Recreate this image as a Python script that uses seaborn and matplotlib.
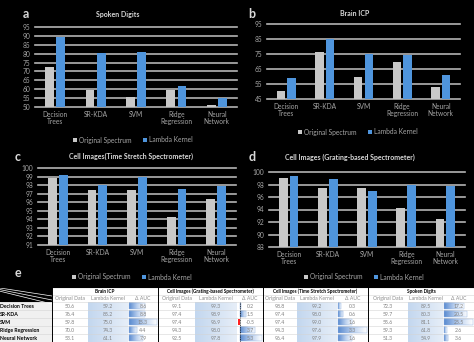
import numpy as np
import pandas as pd
import matplotlib
matplotlib.use("Agg")
import matplotlib.pyplot as plt
import seaborn as sns
from matplotlib.colors import LinearSegmentedColormap
from matplotlib.patches import Rectangle, Patch

plt.rcParams['font.family'] = ['Lato', 'DejaVu Sans']

# ---------------- data ----------------
methods = ["Decision\nTrees", "SR-KDA", "SVM", "Ridge\nRegression", "Neural\nNetwork"]
row_names = ["Decision Trees", "SR-KDA", "SVM", "Ridge Regression", "Neural Network"]
series = ["Original Spectrum", "Lambda Kernel"]
sub_headers = ["Original Data", "Lambda Kernel", "\u0394 AUC"]

spoken_orig = [72.3, 59.7, 55.6, 59.3, 51.3]
spoken_lambda = [89.5, 80.3, 81.1, 61.8, 54.9]
spoken_delta = [17.2, 20.5, 25.5, 2.6, 3.6]

brain_orig = [50.6, 76.4, 59.8, 70.0, 53.1]
brain_lambda = [59.2, 85.2, 75.0, 74.3, 61.1]
brain_delta = [8.6, 8.8, 15.3, 4.4, 7.9]

ts_orig = [98.8, 97.4, 97.4, 94.3, 96.4]
ts_lambda = [99.2, 98.0, 99.0, 97.6, 97.9]
ts_delta = [0.3, 0.6, 1.6, 3.3, 1.6]

gr_orig = [99.1, 97.4, 97.4, 94.3, 92.5]
gr_lambda = [99.3, 98.9, 96.9, 98.0, 97.8]
gr_delta = [0.2, 1.5, -0.5, 3.7, 5.3]

ticks_a = [50, 55, 60, 65, 70, 75, 80, 85, 90, 95]
ticks_b = [45, 55, 65, 75, 85, 95]
ticks_c = [91, 92, 93, 94, 95, 96, 97, 98, 99, 100]
ticks_d = [88, 90, 92, 94, 96, 98, 100]

title_a = "Spoken Digits"
title_b = "Brain ICP"
title_c = "Cell Images(Time Stretch Spectrometer)"
title_d = "Cell Images (Grating-based Spectrometer)"
title_gr_tab = "Cell Images (Grating-based Spectrometer)"
title_ts_tab = "Cell Images (Time Stretch Spectrometer)"

# ---------------- style ----------------
GRAY = "#c8c8c8"
BLUE = "#4f95dd"
GRID = "#b4b4b4"
TXT = "#a6a6a6"
TTL = "#d9d9d9"

W, H = 474, 342
fig = plt.figure(figsize=(W / 100, H / 100), dpi=100, facecolor="black")


def fx(x):
    return x / W


def fy(y):
    return 1 - y / H


def rect(x0, y0, x1, y1):
    return [fx(x0), fy(y1), (x1 - x0) / W, (y1 - y0) / H]


panels = [
    dict(box=(35, 27, 237, 107), orig=spoken_orig, lam=spoken_lambda, ticks=ticks_a,
         title=title_a, txy=(118, 14), letter="a", lxy=(26, 14), legxy=(133, 140)),
    dict(box=(267, 24, 460, 99), orig=brain_orig, lam=brain_lambda, ticks=ticks_b,
         title=title_b, txy=(355, 14), letter="b", lxy=(252, 14), legxy=(358, 132)),
    dict(box=(38, 168, 236, 245), orig=ts_orig, lam=ts_lambda, ticks=ticks_c,
         title=title_c, txy=(131, 156), letter="c", lxy=(18, 157), legxy=(132, 277)),
    dict(box=(269, 172, 465, 247), orig=gr_orig, lam=gr_lambda, ticks=ticks_d,
         title=title_d, txy=(350, 157), letter="d", lxy=(252, 157), legxy=(364, 277)),
]

for p in panels:
    ax = fig.add_axes(rect(*p["box"]))
    df = pd.DataFrame({
        "method": methods * 2,
        "series": [series[0]] * 5 + [series[1]] * 5,
        "value": p["orig"] + p["lam"],
    })
    sns.barplot(data=df, x="method", y="value", hue="series", palette=[GRAY, BLUE],
                width=0.55, gap=0.2, ax=ax, legend=False, saturation=1,
                errorbar=None, linewidth=0)
    ax.set_facecolor("black")
    ax.set_ylim(p["ticks"][0], p["ticks"][-1])
    ax.set_yticks(p["ticks"])
    ax.set_xlim(-0.5, 4.5)
    for s in ax.spines.values():
        s.set_visible(False)
    ax.grid(axis="y", color=GRID, lw=1.2)
    ax.grid(axis="x", visible=False)
    ax.set_axisbelow(True)
    for gl in ax.get_ygridlines():
        gl.set_clip_on(False)
    ax.tick_params(axis="both", length=0, colors=TXT, labelsize=4.8)
    ax.tick_params(axis="y", pad=3.5)
    ax.tick_params(axis="x", pad=3)
    for t in ax.get_xticklabels():
        t.set_linespacing(1.0)
    ax.set_xlabel("")
    ax.set_ylabel("")
    fig.text(fx(p["txy"][0]), fy(p["txy"][1]), p["title"], color=TTL, fontsize=5,
             fontweight="bold", ha="center", va="center")
    fig.text(fx(p["lxy"][0]), fy(p["lxy"][1]), p["letter"], color=TTL, fontsize=9,
             fontweight="bold", ha="center", va="center")
    handles = [Patch(facecolor=GRAY), Patch(facecolor=BLUE)]
    fig.legend(handles, series, loc="center",
               bbox_to_anchor=(fx(p["legxy"][0]), fy(p["legxy"][1])), ncol=2,
               frameon=False, fontsize=4.8, handlelength=0.6, handleheight=0.6,
               handletextpad=0.3, columnspacing=1.8, labelcolor=TXT,
               borderaxespad=0, borderpad=0)

fig.text(fx(18), fy(273), "e", color=TTL, fontsize=9, fontweight="bold",
         ha="center", va="center")

# ---------------- table ----------------
T0 = 287
tax = fig.add_axes([0, 0, 1, (H - T0) / H])
tax.axis("off")

groups = [
    ("Brain ICP", brain_orig, brain_lambda, brain_delta, (52, 88, 128, 158)),
    (title_gr_tab, gr_orig, gr_lambda, gr_delta, (158, 195, 237, 263)),
    (title_ts_tab, ts_orig, ts_lambda, ts_delta, (263, 297, 337, 368)),
    ("Spoken Digits", spoken_orig, spoken_lambda, spoken_delta, (368, 408, 443, 474)),
]
h1, h2, r0, rh = 287, 294.5, 302, 8
FS_GRP = 3.4
FS_TXT = 3.7

# backgrounds
tax.add_patch(Rectangle((52, h1), W - 52, r0 - h1, facecolor="white", edgecolor="none"))
tax.add_patch(Rectangle((0, r0), 52, H - r0, facecolor="#f0f0f0", edgecolor="none"))
tax.add_patch(Rectangle((0, h1), 52, r0 - h1, facecolor="black", edgecolor="none"))
for dy in (0, 4, 8):
    tax.plot([0, 52], [h1 + 1 + dy * 0.4, r0 - 6 + dy], color="white", lw=0.5)

lam_cmap = LinearSegmentedColormap.from_list("lam", ["#c3d7ef", "#e6eef8"])
bar_cmap = LinearSegmentedColormap.from_list("bar", ["#5a8bd0", "#b9cfee", "#ffffff"])
grad = np.linspace(0, 1, 64).reshape(1, -1)

for name, orig, lam, delta, (c0, c1, c2, c3) in groups:
    tax.add_patch(Rectangle((c0, r0), c1 - c0, H - r0, facecolor="white", edgecolor="none"))
    tax.imshow(grad, extent=[c1, c2, H, r0], cmap=lam_cmap, aspect="auto", zorder=1)
    tax.add_patch(Rectangle((c2, r0), c3 - c2, H - r0, facecolor="white", edgecolor="none",
                            zorder=1))
    tax.text((c0 + c3) / 2, (h1 + h2) / 2 + 0.5, name, fontsize=FS_GRP, fontweight="bold",
             color="black", ha="center", va="center", zorder=5)
    for k, (a, b) in enumerate([(c0, c1), (c1, c2), (c2, c3)]):
        tax.text((a + b) / 2, (h2 + r0) / 2 + 0.5, sub_headers[k], fontsize=FS_TXT,
                 color="#8c8c8c", ha="center", va="center", zorder=5)
    # data bars in delta column
    dmin = min(0.0, min(delta))
    dmax = max(delta)
    span = (c3 - c2 - 2)
    axis_x = c2 + 1 + span * (-dmin) / (dmax - dmin)
    for i, v in enumerate(delta):
        yc = r0 + rh * i + rh / 2
        length = span * v / (dmax - dmin)
        if v >= 0:
            tax.barh(yc, length, left=axis_x, height=rh - 1.6, color="none",
                     edgecolor="#8fb1e0", lw=0.3, zorder=3)
            tax.imshow(grad, extent=[axis_x, axis_x + length, yc + (rh - 1.6) / 2,
                                     yc - (rh - 1.6) / 2],
                       cmap=bar_cmap, aspect="auto", zorder=2)
        else:
            tax.barh(yc, length, left=axis_x, height=rh - 1.6, color="#ff2020",
                     edgecolor="none", zorder=3)
    if dmin < 0:
        tax.plot([axis_x, axis_x], [r0, H], color="black", lw=0.5, ls=(0, (1.5, 1)),
                 zorder=4)
    for i in range(5):
        yc = r0 + rh * i + rh / 2 + 0.4
        for val, (a, b) in zip([orig[i], lam[i], delta[i]], [(c0, c1), (c1, c2), (c2, c3)]):
            tax.text((a + b) / 2, yc, f"{val:.1f}", fontsize=FS_TXT, color="#808080",
                     ha="center", va="center", zorder=5)
    tax.plot([c0, c0], [h1, H], color="black", lw=0.7, zorder=6)

for i, nm in enumerate(row_names):
    tax.text(0.3, r0 + rh * i + rh / 2 + 0.4, nm, fontsize=FS_TXT, fontweight="bold",
             color="black", ha="left", va="center", zorder=5)

# row separators
for i in range(6):
    y = r0 + rh * i
    tax.plot([0, W], [y, y], color="#d4d4d4", lw=0.4, zorder=4)
tax.plot([52, W], [h2, h2], color="#d4d4d4", lw=0.4, zorder=4)
tax.plot([0, W], [h1 + 0.3, h1 + 0.3], color="black", lw=0.8, zorder=6)

tax.set_xlim(0, W)
tax.set_ylim(H, T0)

fig.savefig("out.png", dpi=100, facecolor="black")
